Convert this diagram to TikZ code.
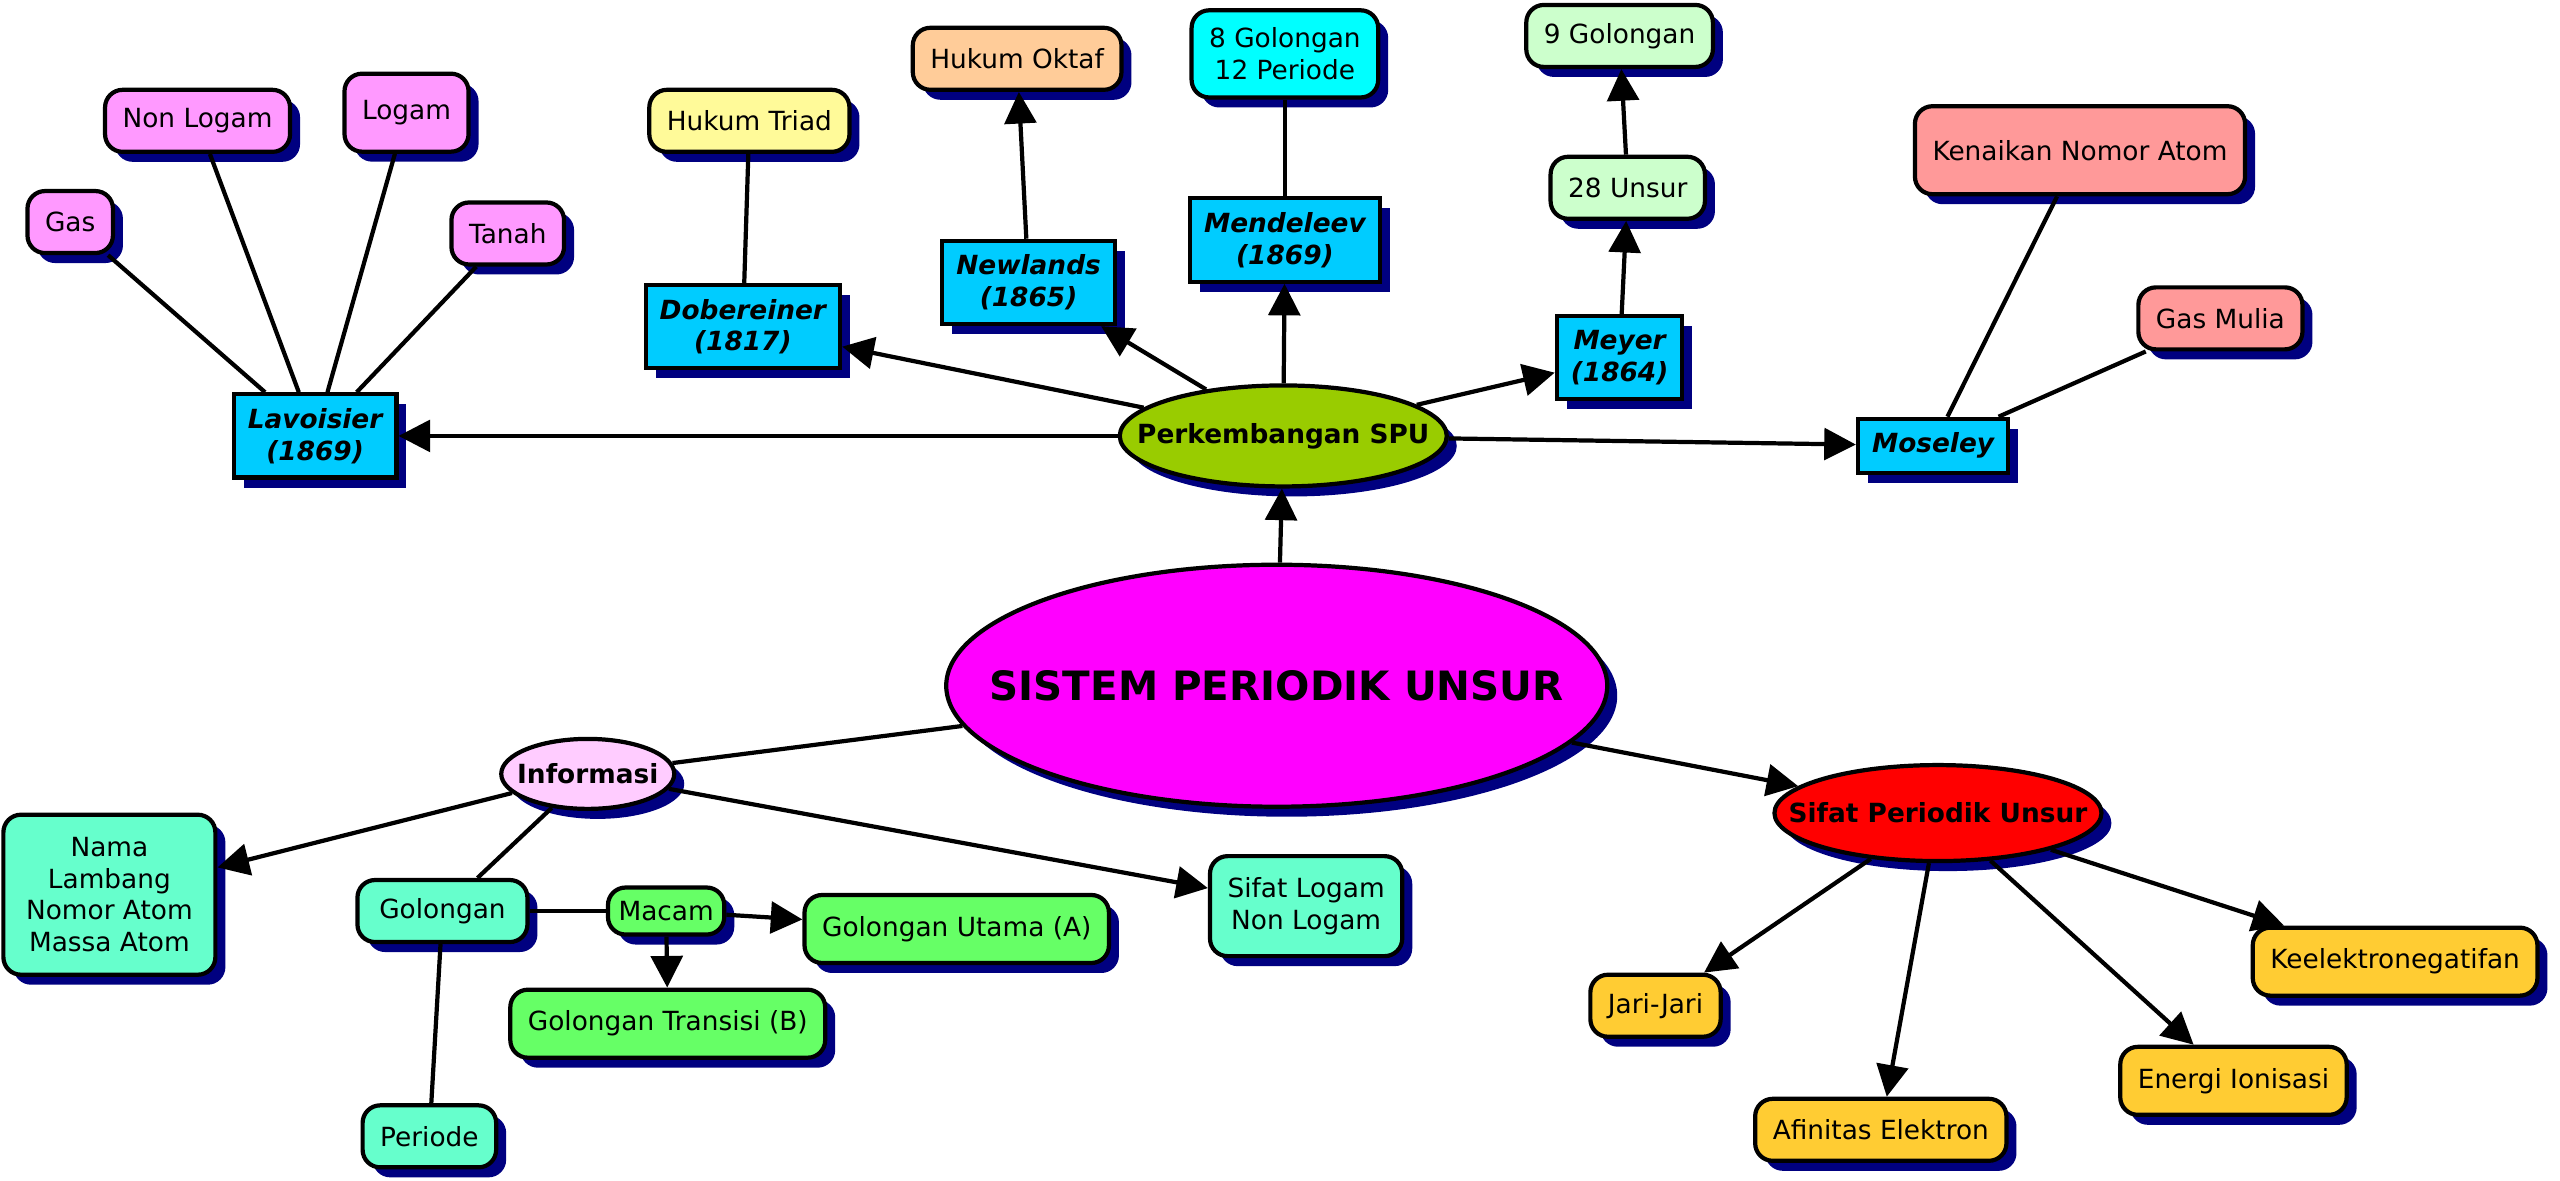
\documentclass[tikz,border=0pt]{standalone}
\usepackage{fontspec}
\setmainfont{DejaVu Sans}
\usetikzlibrary{shapes.geometric,shadows,arrows.meta}
\definecolor{shade}{RGB}{0,0,128}
\definecolor{tokoh}{RGB}{0,204,255}
\definecolor{pink}{RGB}{255,153,255}
\definecolor{tosca}{RGB}{102,255,204}
\definecolor{hijau}{RGB}{102,255,102}
\definecolor{kuning}{RGB}{255,204,51}
\definecolor{olive}{RGB}{153,204,0}
\definecolor{ungu}{RGB}{255,0,255}
\definecolor{biru}{RGB}{0,255,255}
\tikzset{
  shd/.style={drop shadow={shadow xshift=0.1cm,shadow yshift=-0.1cm,fill=shade,opacity=1}},
  tokoh/.style={draw,line width=1.2pt,fill=tokoh,shd,font=\fontsize{7.5}{9}\selectfont\bfseries\itshape,align=center,inner sep=4pt},
  kotak/.style={draw,line width=1.2pt,rounded corners=5pt,shd,font=\fontsize{7.5}{9}\selectfont,align=center,inner sep=5pt,minimum height=0.62cm},
  elips/.style={ellipse,draw,line width=1.2pt,shd,font=\fontsize{7.5}{9}\selectfont\bfseries,inner xsep=-2cm,inner ysep=0pt},
  garis/.style={line width=1.2pt},
  panah/.style={line width=1.2pt,-{Triangle[length=9pt,width=9pt]}}
}
\begin{document}
\begin{tikzpicture}[x=0.016327cm,y=-0.016327cm]
\useasboundingbox (0,0) rectangle (1568,723);
% pusat
\node[elips,fill=ungu,minimum width=6.61cm,minimum height=2.42cm,font=\fontsize{11.5}{13}\selectfont\bfseries] (spu) at (782,420) {SISTEM PERIODIK UNSUR};
\node[elips,fill=olive,minimum width=3.27cm,minimum height=1.01cm] (perk) at (786,267) {Perkembangan SPU};
% tokoh
\node[tokoh] (lav) at (193,267) {Lavoisier\\(1869)};
\node[tokoh] (dob) at (455,200) {Dobereiner\\(1817)};
\node[tokoh] (new) at (630,173) {Newlands\\(1865)};
\node[tokoh] (men) at (787,147) {Mendeleev\\(1869)};
\node[tokoh] (mey) at (992,219) {Meyer\\(1864)};
\node[tokoh,minimum width=1.5cm] (mos) at (1184,273) {Moseley};
% hasil
\node[kotak,fill=yellow!40] (triad) at (459,74) {Hukum Triad};
\node[kotak,fill=orange!40] (oktaf) at (623,36) {Hukum Oktaf};
\node[kotak,fill=biru] (gol8) at (787,33) {8 Golongan\\12 Periode};
\node[kotak,fill=green!20] (gol9) at (992,22) {9 Golongan};
\node[kotak,fill=green!20] (uns) at (997,115) {28 Unsur};
\node[kotak,fill=red!40,minimum height=0.88cm] (naik) at (1274,92) {Kenaikan Nomor Atom};
\node[kotak,fill=red!40] (mulia) at (1360,195) {Gas Mulia};
\node[kotak,fill=pink] (gas) at (43,136) {Gas};
\node[kotak,fill=pink] (nonl) at (121,74) {Non Logam};
\node[kotak,fill=pink,minimum height=0.78cm] (log) at (249,69) {Logam};
\node[kotak,fill=pink] (tnh) at (311,143) {Tanah};
% bawah kiri
\node[elips,fill=pink!50,minimum width=1.73cm,minimum height=0.7cm] (info) at (360,474) {Informasi};
\node[kotak,fill=tosca,minimum width=2.12cm,minimum height=1.6cm] (nama) at (67,548) {Nama\\Lambang\\Nomor Atom\\Massa Atom};
\node[kotak,fill=tosca,minimum width=1.7cm] (gol) at (271,558) {Golongan};
\node[kotak,fill=tosca] (per) at (263,696) {Periode};
\node[kotak,fill=hijau,minimum height=0.47cm,inner sep=3pt] (mac) at (408,558) {Macam};
\node[kotak,fill=hijau,minimum height=0.68cm] (uta) at (586,569) {Golongan Utama (A)};
\node[kotak,fill=hijau,minimum height=0.68cm] (tra) at (409,627) {Golongan Transisi (B)};
\node[kotak,fill=tosca,minimum height=1cm] (sifl) at (800,555) {Sifat Logam\\Non Logam};
% bawah kanan
\node[elips,fill=red,minimum width=3.27cm,minimum height=0.96cm] (sifat) at (1187,498) {Sifat Periodik Unsur};
\node[kotak,fill=kuning] (jari) at (1014,616) {Jari-Jari};
\node[kotak,fill=kuning] (afi) at (1152,692) {Afinitas Elektron};
\node[kotak,fill=kuning,minimum height=0.68cm] (ion) at (1368,662) {Energi Ionisasi};
\node[kotak,fill=kuning,minimum height=0.68cm] (kee) at (1467,589) {Keelektronegatifan};
% hubungan
\draw[panah] (spu) -- (perk);
\foreach \t in {lav,dob,new,men,mey,mos} \draw[panah] (perk) -- (\t);
\foreach \t in {gas,nonl,log,tnh} \draw[garis] (lav) -- (\t);
\draw[garis] (dob) -- (triad);
\draw[panah] (new) -- (oktaf);
\draw[garis] (men) -- (gol8);
\draw[panah] (mey) -- (uns);
\draw[panah] (uns) -- (gol9);
\draw[garis] (mos) -- (naik);
\draw[garis] (mos) -- (mulia);
\draw[garis] (spu) -- (info);
\draw[panah] (spu) -- (sifat);
\draw[panah] (info) -- (nama);
\draw[garis] (info) -- (gol);
\draw[panah] (info) -- (sifl);
\draw[garis] (gol) -- (mac);
\draw[garis] (gol) -- (per);
\draw[panah] (mac) -- (uta);
\draw[panah] (mac) -- (tra);
\foreach \t in {jari,afi,ion,kee} \draw[panah] (sifat) -- (\t);
\end{tikzpicture}
\end{document}
